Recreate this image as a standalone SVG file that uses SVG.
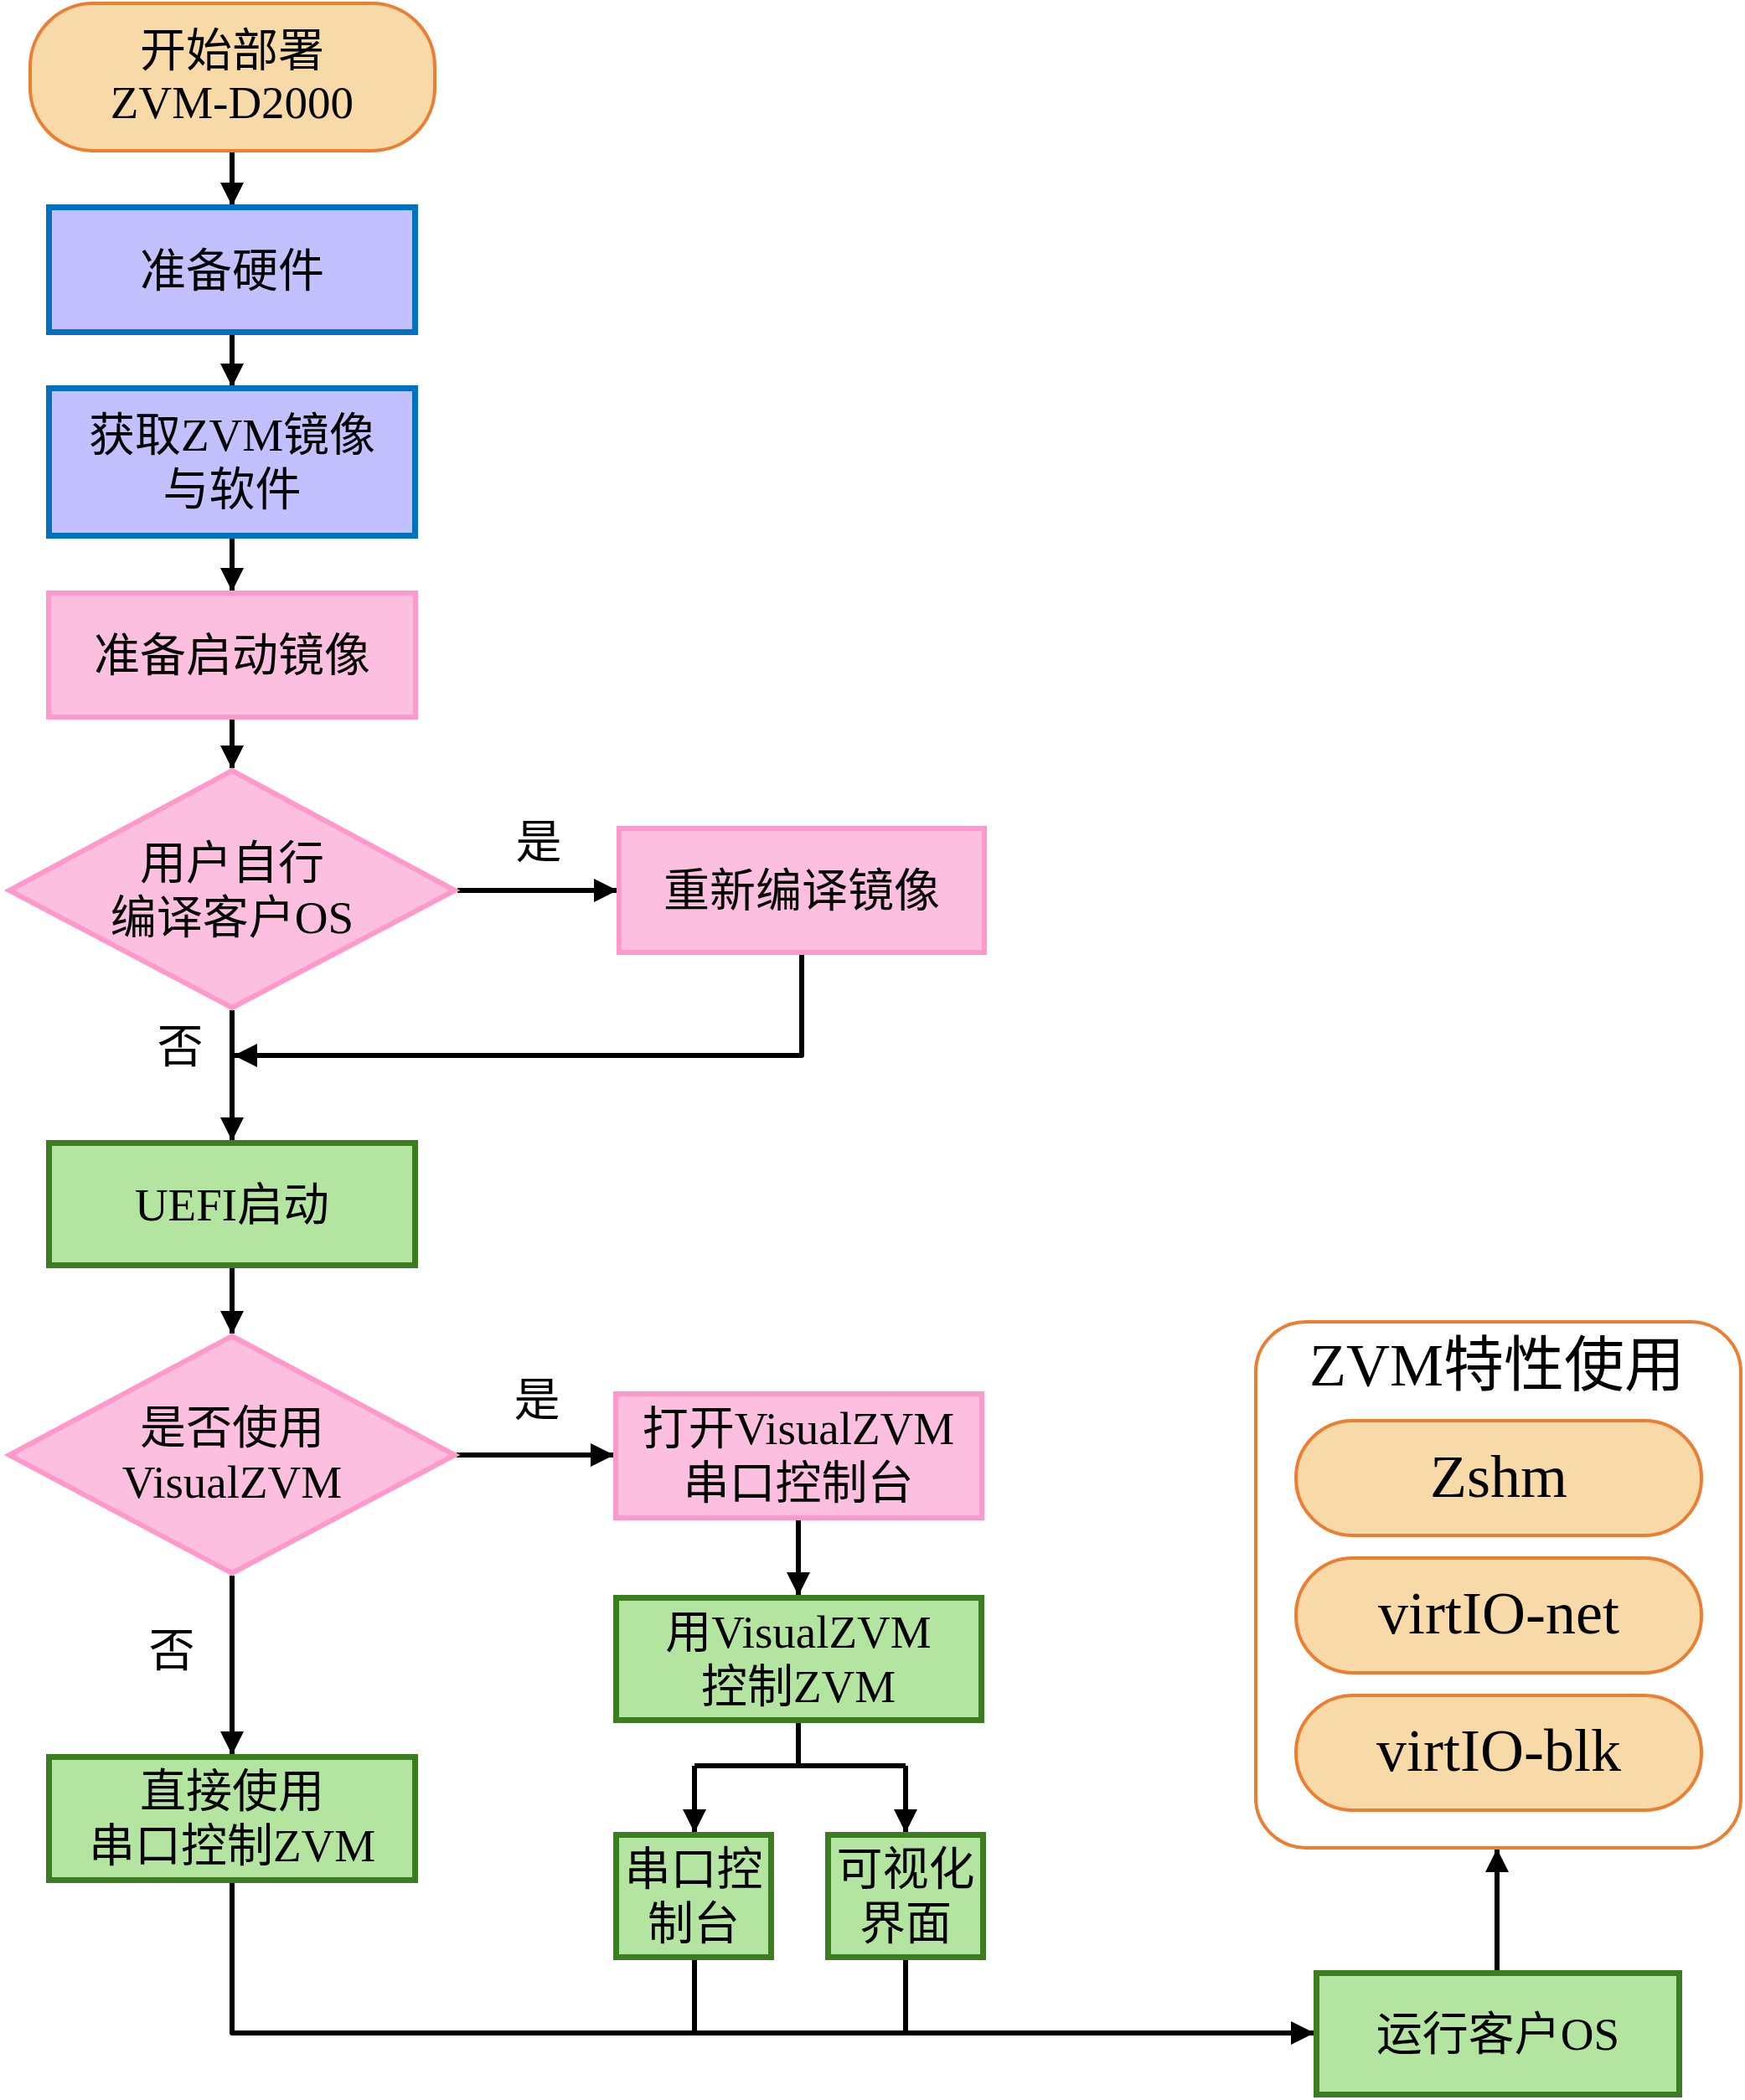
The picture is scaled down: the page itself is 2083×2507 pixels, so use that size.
<svg xmlns="http://www.w3.org/2000/svg" width="2083" height="2507" viewBox="0 0 2083 2507">
<style>
text{font-family:"Liberation Serif","Noto Sans CJK SC",serif;font-size:55px;fill:#000;text-anchor:middle}
.big{font-size:72px}
.peach{fill:#F8D9A8;stroke:#ED7D31;stroke-width:4}
.blue{fill:#C2C0FF;stroke:#0070C0;stroke-width:7}
.pink{fill:#FDBFDF;stroke:#FF99CC;stroke-width:6}
.green{fill:#B3E5A0;stroke:#3C7D22;stroke-width:7}
.cont{fill:#FFFFFF;stroke:#ED7D31;stroke-width:4}
.ln{fill:none;stroke:#000;stroke-width:6;stroke-linejoin:round}
.ar{marker-end:url(#ah)}
</style>
<defs>
<marker id="ah" markerUnits="userSpaceOnUse" markerWidth="28" markerHeight="28" refX="27" refY="14" orient="auto">
<path d="M0,0 L28,14 L0,28 z" fill="#000"/>
</marker>
</defs>
<g id="connectors">
<path class="ln ar" d="M277,182 V245"/>
<path class="ln ar" d="M277,400 V461"/>
<path class="ln ar" d="M277,643 V705"/>
<path class="ln ar" d="M277,859 V917"/>
<path class="ln ar" d="M546,1063 H736"/>
<path class="ln ar" d="M957,1140 V1260 H280"/>
<path class="ln ar" d="M277,1206 V1361"/>
<path class="ln ar" d="M277,1514 V1592"/>
<path class="ln ar" d="M545,1737 H732"/>
<path class="ln ar" d="M953,1815 V1904"/>
<path class="ln ar" d="M277,1881 V2094"/>
<path class="ln" d="M953,2057 V2108"/>
<path class="ln ar" d="M829,2108 H1081 M829,2108 V2187"/>
<path class="ln ar" d="M1081,2108 V2187"/>
<path class="ln" d="M829,2340 V2427 M1081,2340 V2427"/>
<path class="ln ar" d="M277,2248 V2427 H1568"/>
<path class="ln ar" d="M1787,2352 V2208"/>
</g>
<g id="labels">
<text x="643" y="1024">是</text>
<text x="215" y="1268">否</text>
<text x="641" y="1690">是</text>
<text x="205" y="1989">否</text>
</g>
<g id="start"><rect class="peach" x="36" y="4" width="483" height="176" rx="75" ry="75"/><text x="277" y="79">开始部署</text><text x="277" y="141">ZVM-D2000</text></g>
<g id="hardware"><rect class="blue" x="58.5" y="247.5" width="437" height="149"/><text x="277" y="342">准备硬件</text></g>
<g id="getimage"><rect class="blue" x="58.5" y="463.5" width="437" height="176"/><text x="277" y="538">获取ZVM镜像</text><text x="277" y="603">与软件</text></g>
<g id="bootimage"><rect class="pink" x="58" y="708" width="438" height="148"/><text x="277" y="801">准备启动镜像</text></g>
<g id="decide1"><polygon class="pink" points="277,920 543,1063 277,1203 11,1063"/><text x="277" y="1049">用户自行</text><text x="277" y="1114">编译客户OS</text></g>
<g id="recompile"><rect class="pink" x="739" y="989" width="436" height="148"/><text x="957" y="1082">重新编译镜像</text></g>
<g id="uefi"><rect class="green" x="58.5" y="1364.5" width="437" height="146"/><text x="277" y="1457">UEFI启动</text></g>
<g id="decide2"><polygon class="pink" points="277,1595 543,1737 277,1878 11,1737"/><text x="277" y="1723">是否使用</text><text x="277" y="1788">VisualZVM</text></g>
<g id="openvz"><rect class="pink" x="735" y="1664" width="437" height="148"/><text x="953" y="1724">打开VisualZVM</text><text x="953" y="1789">串口控制台</text></g>
<g id="usevz"><rect class="green" x="735.5" y="1907.5" width="436" height="146"/><text x="953" y="1967">用VisualZVM</text><text x="953" y="2032">控制ZVM</text></g>
<g id="direct"><rect class="green" x="58.5" y="2097.5" width="437" height="147"/><text x="277" y="2157">直接使用</text><text x="277" y="2222">串口控制ZVM</text></g>
<g id="serial"><rect class="green" x="735.5" y="2190.5" width="185" height="146"/><text x="828" y="2250">串口控</text><text x="828" y="2315">制台</text></g>
<g id="visual"><rect class="green" x="988.5" y="2190.5" width="185" height="146"/><text x="1081" y="2250">可视化</text><text x="1081" y="2315">界面</text></g>
<g id="runos"><rect class="green" x="1571.5" y="2355.5" width="433" height="145"/><text x="1788" y="2447">运行客户OS</text></g>
<g id="features"><rect class="cont" x="1499" y="1578" width="579" height="628" rx="60" ry="60"/><text class="big" x="1787" y="1654">ZVM特性使用</text></g>
<g id="zshm"><rect class="peach" x="1547" y="1696" width="484" height="137" rx="68" ry="68"/><text class="big" x="1789" y="1787">Zshm</text></g>
<g id="vnet"><rect class="peach" x="1547" y="1860" width="484" height="137" rx="68" ry="68"/><text class="big" x="1789" y="1950">virtIO-net</text></g>
<g id="vblk"><rect class="peach" x="1547" y="2024" width="484" height="137" rx="68" ry="68"/><text class="big" x="1789" y="2114">virtIO-blk</text></g>
</svg>
